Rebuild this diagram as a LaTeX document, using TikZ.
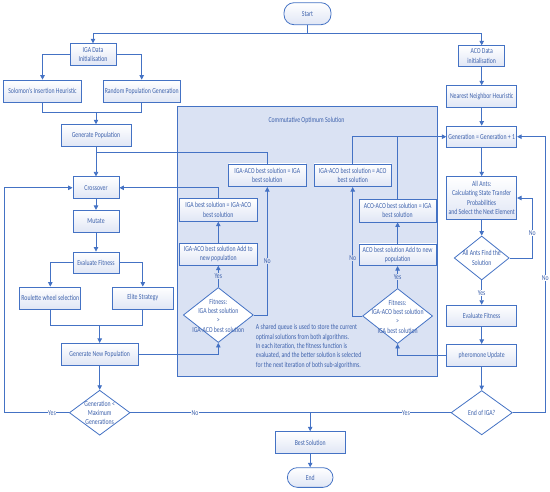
\documentclass[tikz,border=0pt]{standalone}
\usepackage{fontspec}
\setmainfont{Carlito}[FakeStretch=0.76]
\usetikzlibrary{arrows.meta,shapes.geometric}
\definecolor{lc}{RGB}{68,114,196}
\definecolor{tc}{RGB}{62,98,172}
\definecolor{boxb}{RGB}{224,230,245}
\definecolor{panelf}{RGB}{218,226,243}
\newcommand\fsz{\fontsize{7.6}{9.3}\selectfont}
\begin{document}
\begin{tikzpicture}[x=1pt,y=-1pt,
  every node/.style={font=\fsz, text=tc},
  box/.style={draw=lc, line width=0.8pt, top color=white, bottom color=boxb, align=center, inner sep=0pt, minimum width=70, minimum height=21.7},
  term/.style={box, rounded corners=10pt, minimum width=46, minimum height=21},
  diam/.style={diamond, draw=lc, line width=0.8pt, fill=white, inner sep=0pt},
  dtxt/.style={align=center, inner sep=0pt},
  ln/.style={draw=lc, line width=0.8pt},
  arr/.style={ln, -{Triangle[length=4.5pt,width=4.5pt]}},
  lab/.style={fill=white, inner sep=0.6pt},
  labp/.style={fill=panelf, inner sep=0.6pt}]
\useasboundingbox (0,0) rectangle (550,491);
% panel
\node[draw=lc, line width=0.8pt, fill=panelf, minimum width=260, minimum height=269.3, inner sep=0pt] (panel) at (307.3,241.35) {};
\node (ptitle) at (306.5,120) {Commutative Optimum Solution};
\node[align=left, inner sep=0pt, anchor=west] (pdesc) at (255.7,346.6) {A shared queue is used to store the current\\optimal solutions from both algorithms.\\In each iteration, the fitness function is\\evaluated, and the better solution is selected\\for the next iteration of both sub-algorithms.};
% left column
\node[term, minimum width=47, minimum height=22] (start) at (307.5,13.7) {Start};
\node[box, minimum width=46, minimum height=22] (igainit) at (93,54.7) {IGA Data\\Initialisation};
\node[box, minimum width=77.5, minimum height=22.3] (solo) at (42.5,91.2) {Solomon’s Insertion Heuristic};
\node[box, minimum width=77.5, minimum height=22.3] (rand) at (141.7,91.2) {Random Population Generation};
\node[box, minimum width=70, minimum height=21.7] (genpop) at (96,135.5) {Generate Population};
\node[box, minimum width=46, minimum height=22] (cross) at (96,187.8) {Crossover};
\node[box, minimum width=46, minimum height=22] (mut) at (96,221.3) {Mutate};
\node[box, minimum width=46, minimum height=21.7] (evalL) at (96,262.8) {Evaluate Fitness};
\node[box, minimum width=61, minimum height=22] (roul) at (50.3,298) {Roulette wheel selection};
\node[box, minimum width=61.7, minimum height=22] (elite) at (142.8,298) {Elite Strategy};
\node[box, minimum width=77.3, minimum height=21.7] (gnp) at (99.7,354.2) {Generate New Population};
\node[diam, minimum width=60.7, minimum height=45] (gen) at (99.7,412.7) {};
\node[dtxt] (gent) at (gen) {Generation <\\Maximum\\Generations};
% panel contents
\node[box, minimum width=77.3, minimum height=22.7] (iaI) at (267.3,175.3) {IGA-ACO best solution = IGA\\best solution};
\node[box, minimum width=78, minimum height=23] (iIa) at (218.3,209.8) {IGA best solution = IGA-ACO\\best solution};
\node[box, minimum width=78.4, minimum height=22] (addL) at (218.3,254.3) {IGA-ACO best solution Add to\\new population};
\node[diam, minimum width=70, minimum height=55] (fitL) at (218.3,315) {};
\node[dtxt] (fitLt) at (218.3,315.5) {Fitness:\\IGA best solution\\>\\IGA-ACO best solution};
\node[box, minimum width=77.3, minimum height=22.7] (iaA) at (352.7,175.3) {IGA-ACO best solution = ACO\\best solution};
\node[box, minimum width=77, minimum height=23] (acoaco) at (397.6,210.5) {ACO-ACO best solution = IGA\\best solution};
\node[box, minimum width=77, minimum height=21.7] (addR) at (397.6,254.8) {ACO best solution Add to new\\population};
\node[diam, minimum width=70, minimum height=55] (fitR) at (397.6,316) {};
\node[dtxt] (fitRt) at (397.6,316.5) {Fitness:\\IGA-ACO best solution\\>\\IGA best solution};
% right column
\node[box, minimum width=45.7, minimum height=21] (acoinit) at (481.7,56.2) {ACO Data\\initialisation};
\node[box] (nn) at (481.7,96.5) {Nearest Neighbor Heuristic};
\node[box, minimum height=21.3] (genp1) at (481.7,136.7) {Generation = Generation + 1};
\node[box, minimum height=42.7] (ants) at (481.7,198) {All Ants:\\Calculating State Transfer\\Probabilities\\and Select the Next Element};
\node[diam, minimum width=55, minimum height=44] (antsd) at (481.7,258) {};
\node[dtxt] (antsdt) at (antsd) {All Ants Find the\\Solution};
\node[box] (evalR) at (481.7,316) {Evaluate Fitness};
\node[box] (pher) at (481.7,355.2) {pheromone Update};
\node[diam, minimum width=61.3, minimum height=44.3] (endiga) at (481.7,412.7) {};
\node[dtxt] (endigat) at (endiga) {End of IGA?};
\node[box, minimum width=70.3] (best) at (310.2,442.5) {Best Solution};
\node[term, minimum width=45.7, minimum height=19.7] (end) at (310.2,477.5) {End};
% junction coordinates
\coordinate (sp) at (307.5,33.3);
\coordinate (j1) at (96,112.7);
\coordinate (j2) at (96,152.3);
\coordinate (j3) at (99.7,325.7);
\coordinate (j4) at (310.2,412.7);
\coordinate (lp) at (4,412.7);
\coordinate (rl) at (532.3,258);
\coordinate (rr) at (545.3,412.7);
% connectors
\draw[ln] (start.south) -- (sp);
\draw[arr] (sp) -| (igainit.north);
\draw[arr] (sp) -| (acoinit.north);
\draw[arr] (igainit.west) -| (solo.north);
\draw[arr] (igainit.east) -| (rand.north);
\draw[ln] (solo.south) |- (j1) -| (rand.south);
\draw[arr] (j1) -- (genpop.north);
\draw[arr] (genpop) -- (cross);
\draw[ln] (iaI.north) |- (j2);
\draw[arr] (iIa.north) |- (cross.east);
\draw[arr] (gen.west) -- (lp) |- (cross.west);
\draw[arr] (cross) -- (mut);
\draw[arr] (mut) -- (evalL);
\draw[arr] (evalL.west) -| (roul.north);
\draw[arr] (evalL.east) -| (elite.north);
\draw[ln] (roul.south) |- (j3) -| (elite.south);
\draw[arr] (j3) -- (gnp.north);
\draw[arr] (gnp) -- (gen);
\draw[arr] (gnp.east) -| (fitL.south);
\draw[arr] (fitL) -- (addL);
\draw[arr] (addL) -- (iIa);
\draw[arr] (fitL.east) -| (iaI.south);
\draw[ln] (gen.east) -- (j4);
\draw[ln] (endiga.west) -- (j4);
\draw[arr] (j4) -- (best.north);
\draw[arr] (best) -- (end);
\draw[arr] (acoinit) -- (nn);
\draw[arr] (nn) -- (genp1);
\draw[arr] (genp1) -- (ants);
\draw[arr] (ants) -- (antsd);
\draw[arr] (antsd) -- (evalR);
\draw[arr] (evalR) -- (pher);
\draw[arr] (pher) -- (endiga);
\draw[arr] (antsd.east) -- (rl) |- (ants.east);
\draw[arr] (endiga.east) -- (rr) |- (genp1.east);
\draw[arr] (pher.west) -| (fitR.south);
\draw[arr] (fitR) -- (addR);
\draw[arr] (addR) -- (acoaco);
\draw[arr] (fitR.west) -| (iaA.south);
\draw[arr] (iaA.north) |- (genp1.west);
\draw[ln] (acoaco.north) -- (acoaco.north |- genp1.west);
% labels
\node[lab] (yes1) at (52,412.7) {Yes};
\node[lab] (no1) at (195,412.7) {No};
\node[lab] (yes2) at (406,412.7) {Yes};
\node[labp] (yes3) at (218.3,276.3) {Yes};
\node[labp] (no2) at (267.3,260.7) {No};
\node[labp] (yes4) at (397.6,277) {Yes};
\node[labp] (no3) at (352.7,258) {No};
\node[lab] (no4) at (532.3,233.3) {No};
\node[lab] (yes5) at (481.7,293.3) {Yes};
\node[lab] (no5) at (545.3,277.7) {No};
\end{tikzpicture}
\end{document}
